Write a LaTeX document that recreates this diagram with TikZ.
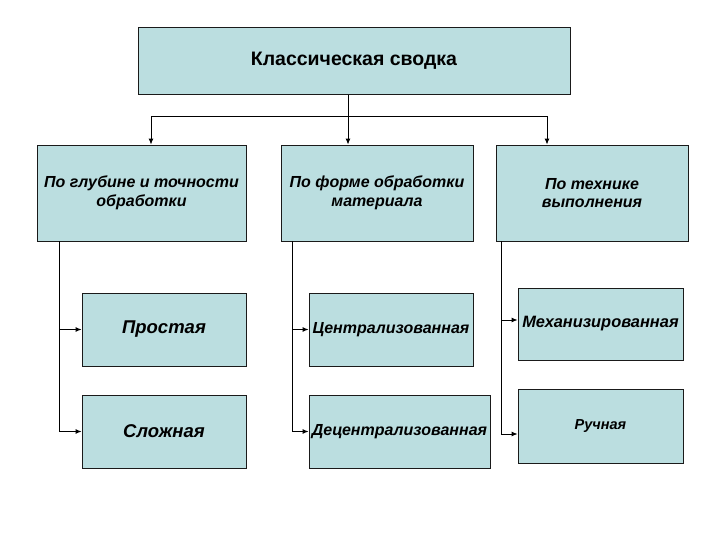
\documentclass[tikz,border=0pt]{standalone}
\usepackage{fontspec}
\setmainfont{Liberation Sans}
\usetikzlibrary{arrows.meta}
\definecolor{sv-fill}{HTML}{BBDEE0}
\definecolor{sv-line}{HTML}{1A1A1A}

\begin{document}
\begin{tikzpicture}[x=1pt, y=-1pt, >={Latex[length=6pt,width=5pt]}, line width=1pt]
    \tikzset{
        box/.style={draw=sv-line, line width=0.8pt, fill=sv-fill, inner sep=0pt,
            align=center, text=black},
        topbox/.style={box, minimum width=432pt, minimum height=67pt,
            font=\fontsize{19.5}{22}\selectfont\bfseries},
        catbox/.style={box, minimum width=192pt, minimum height=96pt,
            font=\fontsize{16}{18.5}\selectfont\bfseries\itshape},
        subbox/.style={box, minimum width=164pt, minimum height=73pt,
            font=\fontsize{16}{19}\selectfont\bfseries\itshape}
    }
    \useasboundingbox (0,0) rectangle (720,540);

    % --- Top level ---
    \node[topbox] (top) at (354,61) {Классическая сводка};

    % --- Groups of the summary ---
    \node[catbox, minimum width=209pt] (depth) at (141.5,193) {По глубине и точности\\обработки};
    \node[catbox] (form) at (377,193) {По форме обработки\\материала};
    \node[catbox] (tech) at (592,193) {По технике\\выполнения};

    % --- Kinds in each group ---
    \node[subbox, font=\fontsize{18.5}{20}\selectfont\bfseries\itshape] (simple) at (164,329.5) {Простая};
    \node[subbox, font=\fontsize{18.5}{20}\selectfont\bfseries\itshape] (complex) at (164,431.5) {Сложная};
    \node[subbox] (central) at (391,329.5) {Централизованная};
    \node[subbox, minimum width=181pt] (decentral) at (399.5,431.5) {Децентрализованная};
    \node[subbox, minimum width=165pt, minimum height=72pt,
        font=\fontsize{16.4}{19}\selectfont\bfseries\itshape] (mech) at (600.5,324) {Механизированная};
    \node[subbox, minimum width=165pt, minimum height=74pt,
        font=\fontsize{14.5}{17}\selectfont\bfseries\itshape] (manual) at (600.5,426) {Ручная};

    % --- Connectors from the top ---
    \coordinate (bus) at (348,117);
    \draw (top.south -| bus) -- (bus);
    \draw[->] (bus) -- (bus |- form.north);
    \draw[->] (bus) -| ([xshift=9.5pt]depth.north);
    \draw[->] (bus) -| ([xshift=-45pt]tech.north);

    % --- Connectors to the kinds ---
    \draw[->] ([xshift=23pt]depth.south west) |- (simple.west);
    \draw[->] ([xshift=23pt]depth.south west) |- (complex.west);
    \draw[->] ([xshift=12pt]form.south west) |- (central.west);
    \draw[->] ([xshift=12pt]form.south west) |- (decentral.west);
    \draw[->] ([xshift=6pt]tech.south west) |- ([yshift=4pt]mech.west);
    \draw[->] ([xshift=6pt]tech.south west) |- ([yshift=-8pt]manual.west);
\end{tikzpicture}
\end{document}
